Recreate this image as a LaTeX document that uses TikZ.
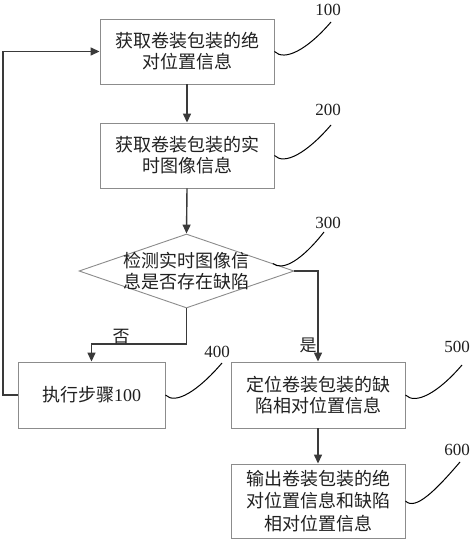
\documentclass[tikz,border=0pt]{standalone}
\usepackage{fontspec}
\setmainfont{Liberation Serif}
\newfontfamily\cjk{Noto Sans CJK SC}
\usetikzlibrary{arrows.meta,shapes.geometric,calc}
\definecolor{boxgray}{HTML}{8C8C8C}
\definecolor{linegray}{HTML}{3A3A3A}
\definecolor{txt}{HTML}{202020}
\begin{document}
\begin{tikzpicture}[x=1pt,y=-1pt,
  stepbox/.style={draw=boxgray, line width=0.9pt, minimum width=174pt, minimum height=65pt, inner sep=0pt, align=center, text=txt, font=\cjk\fontsize{18}{21}\selectfont},
  flow/.style={draw=linegray, line width=1.4pt, -{Triangle[length=9pt,width=8pt]}},
  plain/.style={draw=linegray, line width=1.4pt},
  leader/.style={draw=black, line width=1pt},
  numlabel/.style={font=\fontsize{17}{17}\selectfont, text=txt, inner sep=0pt},
  yn/.style={font=\cjk\fontsize{17}{17}\selectfont, text=txt, inner sep=0pt}]
\useasboundingbox (0,0) rectangle (474,540);
\fill[white] (0,0) rectangle (474,540);

\node[stepbox] (b1) at (187,51.5) {获取卷装包装的绝\\对位置信息};
\node[stepbox] (b2) at (187,155.5) {获取卷装包装的实\\时图像信息};
\node[diamond, draw=boxgray, line width=0.9pt, minimum width=215pt, minimum height=74pt, inner sep=0pt] (d) at (186.5,271) {};
\node[align=center, text=txt, font=\cjk\fontsize{18}{21}\selectfont, inner sep=0pt] (dt) at (d) {检测实时图像信\\息是否存在缺陷};
\node[stepbox, minimum width=147pt, minimum height=66pt, font=\fontsize{18}{21}\selectfont] (b4) at (91.5,395) {{\cjk 执行步骤}100};
\node[stepbox, minimum height=66pt] (b5) at (318,395) {定位卷装包装的缺\\陷相对位置信息};
\node[stepbox, minimum height=74pt, font=\cjk\fontsize{18}{22.5}\selectfont] (b6) at (318,501) {输出卷装包装的绝\\对位置信息和缺陷\\相对位置信息};

\coordinate (n1) at (186.5,344);
\coordinate (fb) at (3,395);

\draw[flow] (b1.south) -- (b2.north);
\draw[flow] (b2.south) -- (d.north);
\draw[flow] (d.east) -| (b5.north);
\draw[flow] (d.south) -- (n1) -| (b4.north);
\draw[flow] (b4.west) -- (fb) |- (b1.west);
\draw[flow] (b5.south) -- (b6.north);

\node[yn] (no) at (121,337) {否};
\node[yn] (yes) at (308,345) {是};

\node[numlabel] (l1) at (328,10) {100};
\node[numlabel] (l2) at (328,110) {200};
\node[numlabel] (l3) at (328,223) {300};
\node[numlabel] (l4) at (217,352) {400};
\node[numlabel] (l5) at (457,347) {500};
\node[numlabel] (l6) at (457,450) {600};

\coordinate (e1) at (331,22);
\coordinate (e2) at (331,125);
\coordinate (e3) at (324,232);
\coordinate (e4) at (222,363);
\coordinate (e5) at (462,365);
\coordinate (e6) at (460,462);
\coordinate (s3) at ($(d.north)!0.8!(d.east)$);

\draw[leader] (b1.east) .. controls +(10,10) and +(-24,28) .. (e1);
\draw[leader] (b2.east) .. controls +(10,10) and +(-24,28) .. (e2);
\draw[leader] (s3) .. controls +(10,8) and +(-22,28) .. (e3);
\draw[leader] (b4.east) .. controls +(10,10) and +(-24,28) .. (e4);
\draw[leader] (b5.east) .. controls +(10,10) and +(-24,28) .. (e5);
\draw[leader] (b6.east) .. controls +(10,10) and +(-24,28) .. (e6);
\end{tikzpicture}
\end{document}
